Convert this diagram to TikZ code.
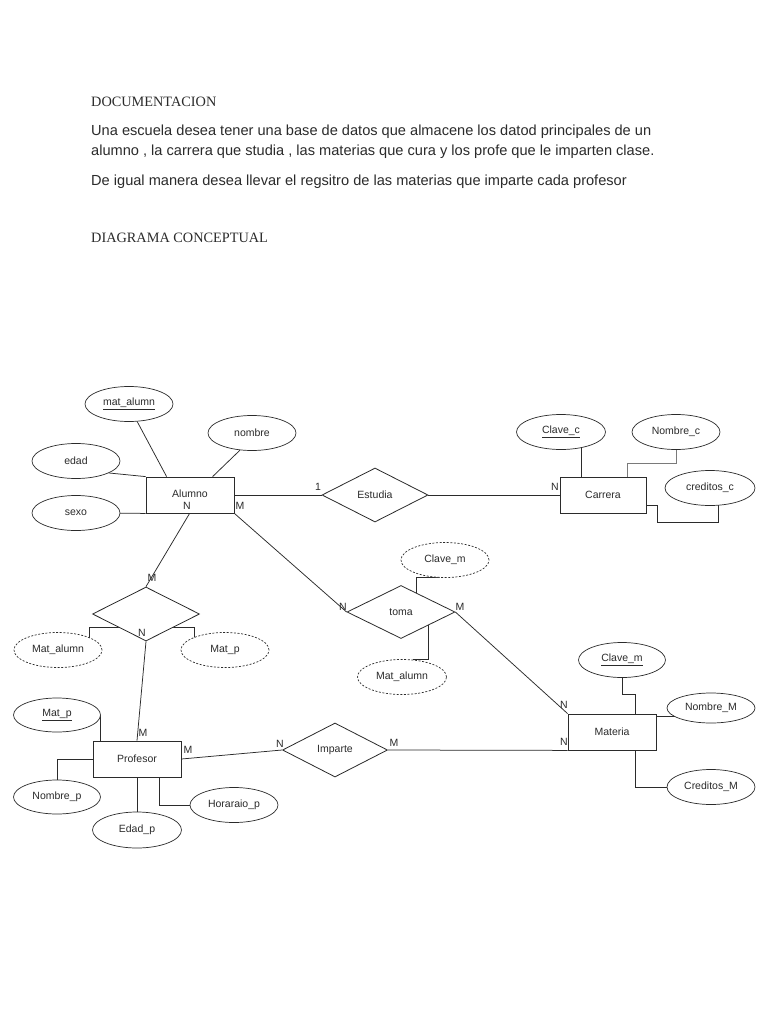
\documentclass[tikz,border=0pt]{standalone}
\usepackage{fontspec}
\setmainfont{Liberation Sans}
\newfontfamily\serifhead{Liberation Serif}
\usetikzlibrary{shapes.geometric,backgrounds,calc}
\definecolor{ink}{HTML}{2B2B2B}
\definecolor{soft}{HTML}{7A7A7A}
\begin{document}
\begin{tikzpicture}[x=1pt,y=-1pt,
  every node/.style={text=ink},
  attr/.style={draw=ink,line width=0.7pt,ellipse,fill=white,inner sep=0pt,minimum width=88pt,minimum height=35pt,font=\fontsize{10.5}{12}\selectfont},
  wattr/.style={attr,dash pattern=on 2pt off 1.6pt},
  ent/.style={draw=ink,line width=0.8pt,rectangle,fill=white,inner sep=0pt,minimum width=88pt,minimum height=36pt,font=\fontsize{10.5}{12}\selectfont,align=center},
  rel/.style={draw=ink,line width=0.8pt,diamond,fill=white,inner sep=0pt,minimum width=106pt,minimum height=54pt,font=\fontsize{10.5}{12}\selectfont},
  card/.style={inner sep=0pt,font=\fontsize{10.5}{12}\selectfont},
  con/.style={draw=ink,line width=0.75pt},
  headtxt/.style={anchor=base west,inner sep=0pt,font=\serifhead\fontsize{14.3}{16}\selectfont},
  bodytxt/.style={anchor=base west,inner sep=0pt,font=\fontsize{14.6}{16}\selectfont}
]
\useasboundingbox (0,0) rectangle (768,1024);

% header text
\node[headtxt] (t1) at (91,107) {DOCUMENTACION};
\node[bodytxt] (t2) at (91,136) {Una escuela desea tener una base de datos que almacene los datod principales de un};
\node[bodytxt] (t3) at (91,156) {alumno , la carrera que studia , las materias que cura y los profe que le imparten clase.};
\node[bodytxt] (t4) at (91,186) {De igual manera desea llevar el regsitro de las materias que imparte cada profesor};
\node[headtxt] (t5) at (91,243) {DIAGRAMA CONCEPTUAL};

% entities
\node[ent] (al) at (190,495) {\raisebox{2pt}{Alumno}};
\node[ent,minimum width=86pt] (ca) at (603,495) {Carrera};
\node[ent] (pr) at (137,759) {Profesor};
\node[ent] (mat) at (612,732) {Materia};

% relationships
\node[rel] (est) at (375,495) {Estudia};
\node[rel,minimum width=107pt] (rl) at (146,614) {};
\node[rel,minimum width=108pt,minimum height=53pt] (tm) at (401,612) {toma};
\node[rel,minimum width=105pt] (imp) at (335,750) {Imparte};

% attributes
\node[attr] (ma) at (129,404) {\underline{mat\_alumn}};
\node[attr] (nom) at (252,433) {nombre};
\node[attr] (ed) at (76,461) {edad};
\node[attr] (sx) at (76,513) {sexo};
\node[attr,minimum width=89pt] (cc) at (561,432) {\underline{Clave\_c}};
\node[attr] (nc) at (676,432) {Nombre\_c};
\node[attr,minimum width=90pt] (cr) at (710,488) {creditos\_c};
\node[wattr] (ma2) at (58,650) {Mat\_alumn};
\node[wattr] (mp2) at (225,650) {Mat\_p};
\node[wattr] (cm2) at (445,560) {Clave\_m};
\node[wattr,minimum width=89pt] (ma3) at (402,677) {Mat\_alumn};
\node[attr,minimum width=87pt,minimum height=34pt] (mpp) at (57,715) {\underline{Mat\_p}};
\node[attr,minimum width=87pt,minimum height=34pt] (np) at (57,797) {Nombre\_p};
\node[attr,minimum width=89pt,minimum height=36pt] (ep) at (137,830) {Edad\_p};
\node[attr] (hp) at (234,805) {Horaraio\_p};
\node[attr,minimum width=87pt] (cm) at (622,660) {\underline{Clave\_m}};
\node[attr,minimum height=30pt] (nm) at (711,708) {Nombre\_M};
\node[attr] (cm3) at (711,787) {Creditos\_M};

% cardinality labels
\node[card] (c0) at (187,506) {N};
\node[card] (c1) at (318,487) {1};
\node[card] (c2) at (555,487) {N};
\node[card] (c3) at (240,506) {M};
\node[card] (c4) at (152,578) {M};
\node[card] (c5) at (142,633) {N};
\node[card] (c6) at (143,733) {M};
\node[card] (c7) at (188,750) {M};
\node[card] (c8) at (280,744) {N};
\node[card] (c9) at (394,743) {M};
\node[card] (c10) at (564,742) {N};
\node[card] (c11) at (343,607) {N};
\node[card] (c12) at (460,607) {M};
\node[card] (c13) at (564,705) {N};

% connectors
\begin{pgfonlayer}{background}
\fill[white] (0,0) rectangle (768,1024);
\draw[con] (ma.-65) -- ([xshift=21pt]al.north west);
\draw[con] (nom.-125) -- ([xshift=67pt]al.north west);
\draw[con] (ed.-20) -- (al.north west);
\draw[con] (sx.center) -- (al.south west);
\draw[con] (al.east) -- (est.west);
\draw[con] (est.east) -- (ca.west);
\draw[con] ([xshift=22pt]ca.north west) -- ([xshift=22pt]ca.north west |- cc.center);
\draw[con,draw=soft] (nc.south) -- ++(0,14) -| ([xshift=24pt]ca.north);
\draw[con] ([yshift=-10pt]ca.east) -- ++(11,0) -- ++(0,17) -| ([xshift=8pt]cr.center);
\draw[con] ([xshift=44pt]al.south west) -- (rl.north);
\draw[con] (rl.south west) -| ([xshift=31pt]ma2.center);
\draw[con] (rl.south east) -| ([xshift=-31pt]mp2.center);
\draw[con] (rl.south) -- (pr.north);
\draw[con] ([xshift=8pt]pr.north west) -- ([xshift=8pt]pr.north west |- mpp.center);
\draw[con] (pr.west) -| (np.center);
\draw[con] (pr.south) -- (ep.center);
\draw[con] ([xshift=-22pt]pr.south east) |- (hp.center);
\draw[con] (pr.east) -- (imp.west);
\draw[con] (imp.east) -- (mat.south west);
\draw[con] (al.south east) -- (tm.west);
\draw[con] (tm.east) -- (mat.north west);
\draw[con] ($(tm.north)!0.28!(tm.east)$) |- ([xshift=-5pt]cm2.south);
\draw[con] (tm.south east) |- ([xshift=11pt]ma3.north);
\draw[con] (cm.south) -- ++(0,17) -| ([xshift=23pt]mat.north);
\draw[con] ([yshift=-3pt]mat.north east) -- ([yshift=-3pt]mat.north east -| nm.center);
\draw[con] ([xshift=23pt]mat.south) |- (cm3.center);
\end{pgfonlayer}
\end{tikzpicture}
\end{document}
